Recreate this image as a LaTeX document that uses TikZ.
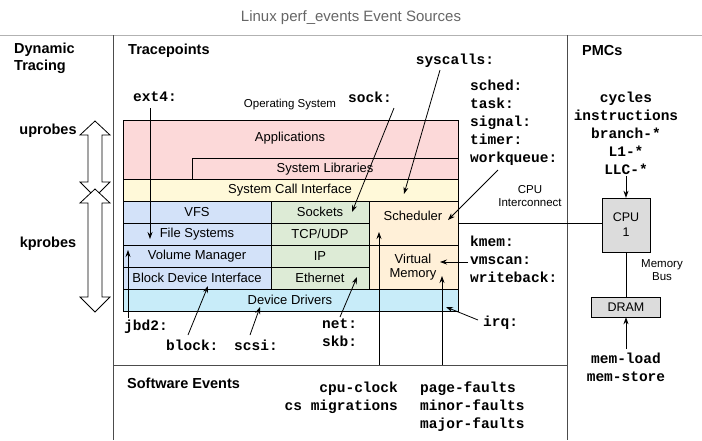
\documentclass[tikz,border=0pt]{standalone}
\usepackage{fontspec}
\setmainfont{Liberation Sans}
\newfontfamily\monob{Liberation Mono}[BoldFont={Liberation Mono Bold}]
\usetikzlibrary{arrows.meta}
\definecolor{appc}{HTML}{FCD9D9}
\definecolor{scic}{HTML}{FFF9D9}
\definecolor{bluec}{HTML}{D3E2F9}
\definecolor{greenc}{HTML}{DDEBD6}
\definecolor{orangec}{HTML}{FFF0D8}
\definecolor{devc}{HTML}{C8ECF9}
\definecolor{boxg}{HTML}{DCDCDC}
\begin{document}
\begin{tikzpicture}[x=1pt,y=-1pt,
  lay/.style={draw=black,line width=0.6pt},
  lbl/.style={font=\fontsize{13}{14}\selectfont,inner sep=0pt},
  mono/.style={font=\monob\bfseries\fontsize{14.5}{18}\selectfont,inner sep=0pt},
  sec/.style={font=\bfseries\fontsize{14.5}{17}\selectfont,inner sep=0pt,anchor=west},
  small/.style={font=\fontsize{11.5}{13}\selectfont,inner sep=0pt,align=center},
  arr/.style={-{Stealth[length=7pt,width=5pt]},line width=0.8pt},
  frame/.style={line width=0.8pt,draw=black!70},
  dbl/.style={draw=black,line width=0.8pt,fill=white}]
\useasboundingbox (0,0) rectangle (702,440);
% frame
\draw[draw=black!30,line width=1pt] (0,35) -- (702,35);
\draw[frame] (113,35) -- (113,440);
\draw[frame] (567,35) -- (567,440);
\draw[frame] (113,365) -- (567,365);
\node[font=\fontsize{15}{18}\selectfont,text=black!60] (title) at (351,18) {Linux perf\_events Event Sources};
% sections
\node[sec,align=left,anchor=north west] (dyn) at (14,43) {Dynamic\\Tracing};
\node[sec] (tp) at (128,51) {Tracepoints};
\node[sec] (sw) at (127,383) {Software Events};
\node[sec] (pmc) at (582,51) {PMCs};
\node[sec,anchor=center] (up) at (48,131) {uprobes};
\node[sec,anchor=center] (kp) at (48,244) {kprobes};
% double arrows
\draw[dbl] (95,121) -- (110,135) -- (102,135) -- (102,182) -- (110,182) -- (95,197) -- (80,182) -- (88,182) -- (88,135) -- (80,135) -- cycle;
\draw[dbl] (95,189) -- (110,203) -- (102,203) -- (102,297) -- (110,297) -- (95,312) -- (80,297) -- (88,297) -- (88,203) -- (80,203) -- cycle;
% OS layers
\node[small] (os) at (290,105) {Operating System};
\draw[lay,fill=appc] (123,120) rectangle (458,179);
\node[lbl] (app) at (290,138) {Applications};
\draw[lay,fill=appc] (192,179) |- (458,158);
\node[lbl] (slib) at (325,169) {System Libraries};
\draw[lay,fill=scic] (123,179) rectangle (458,201);
\node[lbl] (sci) at (290,190) {System Call Interface};
\draw[lay,fill=bluec] (123,201) rectangle (271,223); \node[lbl] (vfs) at (197,212) {VFS};
\draw[lay,fill=bluec] (123,223) rectangle (271,245); \node[lbl] (fs) at (197,234) {File Systems};
\draw[lay,fill=bluec] (123,245) rectangle (271,267); \node[lbl] (vm) at (197,256) {Volume Manager};
\draw[lay,fill=bluec] (123,267) rectangle (271,289); \node[lbl] (bdi) at (197,278) {Block Device Interface};
\draw[lay,fill=greenc] (271,201) rectangle (369,223); \node[lbl] (sock) at (320,212) {Sockets};
\draw[lay,fill=greenc] (271,223) rectangle (369,245); \node[lbl] (tcp) at (320,234) {TCP/UDP};
\draw[lay,fill=greenc] (271,245) rectangle (369,267); \node[lbl] (ip) at (320,256) {IP};
\draw[lay,fill=greenc] (271,267) rectangle (369,289); \node[lbl] (eth) at (320,278) {Ethernet};
\draw[lay,fill=orangec] (369,201) rectangle (458,245); \node[lbl] (sch) at (413,216) {Scheduler};
\draw[lay,fill=orangec] (369,245) rectangle (458,289); \node[lbl,align=center] (vmem) at (413,267) {Virtual\\Memory};
\draw[lay,fill=devc] (123,289) rectangle (458,311); \node[lbl] (dd) at (290,300) {Device Drivers};
% PMC side
\node[small] (ci) at (530,196) {CPU\\Interconnect};
\node[draw,fill=boxg,minimum width=48pt,minimum height=54pt,small,font=\fontsize{12.5}{15}\selectfont] (cpu) at (626,225) {CPU\\1};
\node[draw,fill=boxg,minimum width=69pt,minimum height=20pt,small,font=\fontsize{12.5}{15}\selectfont] (dram) at (626,307) {DRAM};
\coordinate (cil) at (458,223);
\draw[line width=0.6pt] (cil) -- (cpu.west|-cil);
\draw[line width=0.6pt] (cpu.south) -- (dram.north);
\node[small] (mb) at (662,270) {Memory\\Bus};
\node[mono,align=center] (pmcl) at (626,133) {cycles\\instructions\\branch-*\\L1-*\\LLC-*};
\coordinate (pa) at (626,176);
\draw[arr] (pa) -- (cpu.north);
\node[mono,align=center] (mem) at (626,367) {mem-load\\mem-store};
\coordinate (ma) at (626,349);
\draw[arr] (ma) -- (dram.south);
% tracepoint labels
\node[mono] (ext4) at (155,97) {ext4:};
\node[mono] (sockl) at (370,97) {sock:};
\node[mono] (sysc) at (455,61) {syscalls:};
\node[mono,align=left,anchor=north west] (schl) at (470,80) {sched:\\task:\\signal:\\timer:\\workqueue:};
\node[mono,align=left,anchor=north west] (kmem) at (470,236) {kmem:\\vmscan:\\writeback:};
\node[mono,anchor=west] (irq) at (483,323) {irq:};
\node[mono,anchor=west] (jbd) at (124,327) {jbd2:};
\node[mono,anchor=west] (block) at (166,345) {block:};
\node[mono,anchor=west] (scsi) at (234,345) {scsi:};
\node[mono,align=left,anchor=north west] (net) at (322,319) {net:\\skb:};
\node[mono,align=right,anchor=north east] (cpuclk) at (398,382) {cpu-clock\\cs migrations};
\node[mono,align=left,anchor=north west] (pf) at (420,382) {page-faults\\minor-faults\\major-faults};
% arrows
\draw[arr] (150,108) -- (150,239);
\draw[arr] (394,108) -- (352,212);
\draw[arr] (440,70) -- (404,194);
\draw[arr] (498,170) -- (448,220);
\draw[arr] (468,262) -- (440,262);
\draw[arr] (442,365) -- (442,276);
\draw[arr] (379,365) -- (379,232);
\draw[arr] (478,320) -- (446,307);
\draw[arr] (340,317) -- (357,277);
\draw[arr] (250,335) -- (260,307);
\draw[arr] (188,335) -- (208,286);
\draw[arr] (128,318) -- (128,250);
\end{tikzpicture}
\end{document}
